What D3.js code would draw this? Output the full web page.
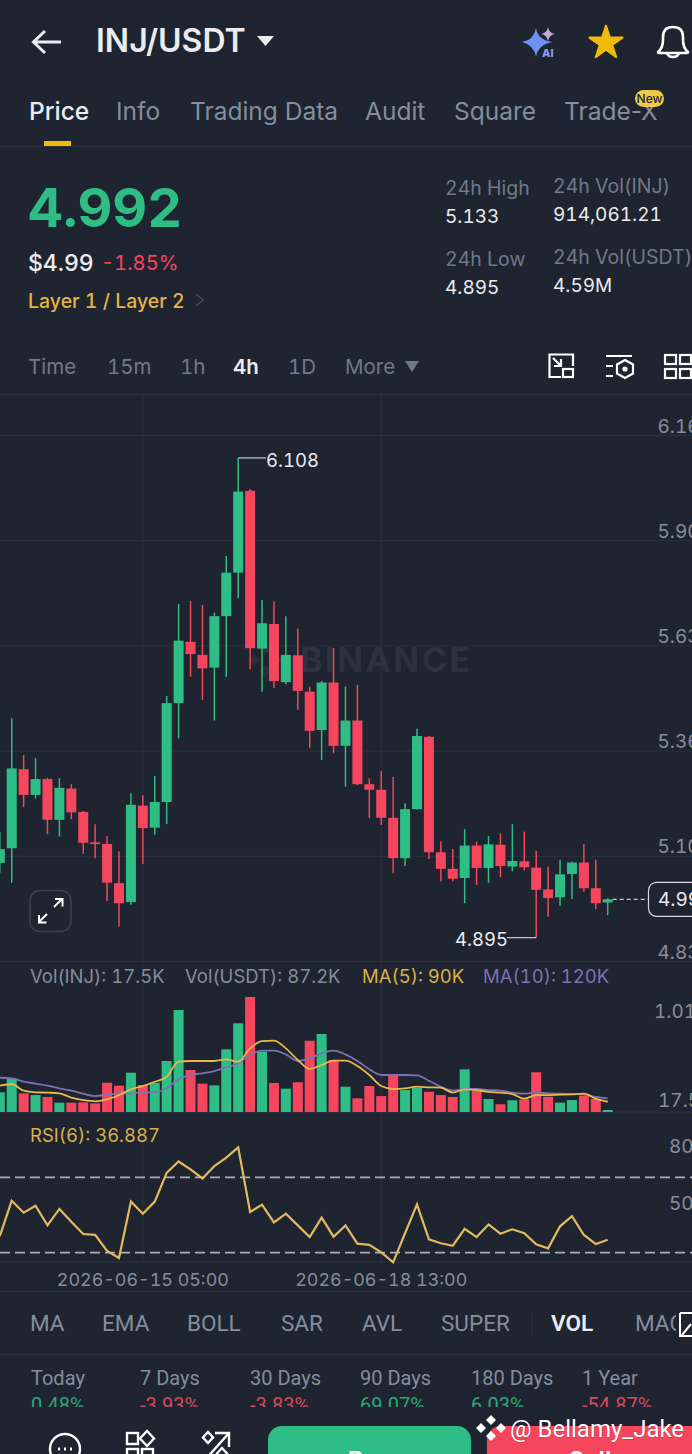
<!DOCTYPE html>
<html>
<head>
<meta charset="utf-8">
<script src="https://cdnjs.cloudflare.com/ajax/libs/d3/7.8.5/d3.min.js"></script>
<style>
  html, body { margin: 0; background: #1e2430; overflow: hidden; }
  svg { display: block; }
  text { font-family: Inter, "Noto Sans", sans-serif; font-variant-numeric: tabular-nums; }
</style>
</head>
<body>
<div id="chart"></div>
<script>
// 4h candles
const times = [
  "2026-06-13 05:00","2026-06-13 09:00","2026-06-13 13:00","2026-06-13 17:00","2026-06-13 21:00",
  "2026-06-14 01:00","2026-06-14 05:00","2026-06-14 09:00","2026-06-14 13:00","2026-06-14 17:00","2026-06-14 21:00",
  "2026-06-15 01:00","2026-06-15 05:00","2026-06-15 09:00","2026-06-15 13:00","2026-06-15 17:00","2026-06-15 21:00",
  "2026-06-16 01:00","2026-06-16 05:00","2026-06-16 09:00","2026-06-16 13:00","2026-06-16 17:00","2026-06-16 21:00",
  "2026-06-17 01:00","2026-06-17 05:00","2026-06-17 09:00","2026-06-17 13:00","2026-06-17 17:00","2026-06-17 21:00",
  "2026-06-18 01:00","2026-06-18 05:00","2026-06-18 09:00","2026-06-18 13:00","2026-06-18 17:00","2026-06-18 21:00",
  "2026-06-19 01:00","2026-06-19 05:00","2026-06-19 09:00","2026-06-19 13:00","2026-06-19 17:00","2026-06-19 21:00",
  "2026-06-20 01:00","2026-06-20 05:00","2026-06-20 09:00","2026-06-20 13:00","2026-06-20 17:00","2026-06-20 21:00",
  "2026-06-21 01:00","2026-06-21 05:00","2026-06-21 09:00","2026-06-21 13:00","2026-06-21 17:00"
]
const open = [5.084,5.121,5.321,5.256,5.296,5.193,5.272,5.213,5.136,5.132,5.033,4.985,5.229,5.173,5.238,5.488,5.643,5.610,5.578,5.708,5.818,6.025,5.626,5.688,5.541,5.609,5.517,5.420,5.540,5.380,5.444,5.283,5.269,5.198,5.096,5.220,5.403,5.111,5.069,5.046,5.128,5.071,5.130,5.075,5.088,5.072,5.017,4.997,5.056,5.085,5.020,4.984]
const high = [5.162,5.450,5.357,5.349,5.299,5.298,5.283,5.215,5.182,5.152,5.113,5.260,5.256,5.304,5.506,5.739,5.746,5.736,5.717,5.860,6.108,6.029,5.749,5.745,5.708,5.677,5.530,5.544,5.627,5.530,5.534,5.298,5.317,5.301,5.235,5.423,5.405,5.138,5.119,5.169,5.138,5.152,5.159,5.182,5.163,5.115,5.075,5.092,5.087,5.132,5.092,4.995]
const low = [5.059,5.034,5.225,5.247,5.157,5.151,5.195,5.107,5.096,4.988,4.923,4.978,5.081,5.155,5.182,5.399,5.555,5.496,5.444,5.554,5.753,5.574,5.517,5.526,5.536,5.471,5.374,5.344,5.361,5.277,5.281,5.198,5.180,5.058,5.076,5.219,5.094,5.037,5.037,4.982,5.028,5.034,5.048,5.063,5.065,4.895,4.948,4.975,4.993,5.011,4.967,4.952]
const close = [5.119,5.323,5.256,5.296,5.193,5.274,5.212,5.135,5.132,5.034,4.982,5.231,5.172,5.238,5.488,5.646,5.612,5.576,5.708,5.818,6.023,5.627,5.690,5.544,5.610,5.519,5.418,5.540,5.380,5.444,5.283,5.269,5.198,5.096,5.220,5.405,5.111,5.069,5.044,5.128,5.071,5.131,5.076,5.089,5.073,5.016,4.995,5.055,5.085,5.020,4.982,4.992]

// volume in thousands of INJ
const volume = [173,296,164,149,132,82,82,85,76,257,231,345,237,257,448,896,369,249,234,550,779,1010,530,255,205,261,626,685,457,222,120,228,140,325,193,213,178,149,132,375,187,114,68,103,111,349,134,82,105,143,114,17.5]
const ma5 = [231,246,187,173,170,164,126,105,94,111,149,199,228,266,310,442,448,448,448,462,442,559,623,626,559,457,378,413,451,451,404,325,228,202,208,222,217,214,170,199,193,176,170,158,117,149,149,152,155,161,117,90]
const ma10 = [301,296,266,249,231,208,187,161,140,152,164,161,173,173,208,287,325,340,360,392,427,501,539,539,506,448,471,515,539,506,448,375,325,325,325,322,275,222,187,202,202,193,187,170,161,170,164,161,158,155,132,120]
const rsi = [38.8,57.6,51.2,54.9,44.5,53.2,46.4,39.9,39.5,30.9,27.2,57.2,50.7,57.1,72.4,78.4,74.2,69.4,76.0,80.4,85.9,51.6,55.5,46.1,50.7,44.5,38.3,48.6,38.5,44.5,34.8,34.2,30.2,24.9,40.3,55.6,37.1,35.0,33.7,42.7,38.3,45.0,40.1,42.4,40.3,34.4,32.3,44.0,49.4,39.4,34.6,36.9]

// tick labels (cut off by the right screen edge in the original)
const priceTicks = [6.166,5.900,5.634,5.368,5.102,4.836]
const priceLabels = ["6.16","5.90","5.63","5.36","5.10","4.83"]
const timeTicks = ["2026-06-15 05:00","2026-06-18 13:00"]
const rsiTicks = [80,50]
const rsiBands = [70,30]

const tabs = ["Price","Info","Trading Data","Audit","Square","Trade-X"]
const intervals = ["Time","15m","1h","4h","1D","More"]
const indicators = ["MA","EMA","BOLL","SAR","AVL","SUPER","VOL","MAC"]
const periods = ["Today","7 Days","30 Days","90 Days","180 Days","1 Year"]
const periodChange = ["0.48%","-3.93%","-3.83%","69.07%","6.03%","-54.87%"]

const w = 692, h = 1454
const bg = '#1e2430', up = '#2ebd85', down = '#f6465d'
const grey = '#848e9c', white = '#eaecef', gridCol = '#2c323e', yellow = '#e3bb5e'

const svg = d3.select('#chart').append('svg').attr('width', w).attr('height', h)
svg.append('rect').attr('width', w).attr('height', h).attr('fill', bg)

const defs = svg.append('defs')
defs.append('clipPath').attr('id', 'pct-clip').append('rect').attr('x', 0).attr('y', 1360).attr('width', w).attr('height', 47)
defs.append('clipPath').attr('id', 'ind-clip').append('rect').attr('x', 0).attr('y', 1295).attr('width', 676).attr('height', 55)

function label(g, s, x, y, size, fill, weight, anchor) {
  return g.append('text').attr('x', x).attr('y', y).attr('font-size', size)
    .attr('fill', fill).attr('font-weight', weight || 400).attr('text-anchor', anchor || 'start').text(s)
}
function hline(g, x1, x2, y, col) {
  g.append('line').attr('x1', x1).attr('x2', x2).attr('y1', y).attr('y2', y).attr('stroke', col || gridCol).attr('stroke-width', 1)
}

// ---- header
const head = svg.append('g')
head.append('path').attr('d', 'M61 42H34M45 31L33.500 42L45 53').attr('fill', 'none').attr('stroke', white).attr('stroke-width', 3)
label(head, 'INJ/USDT', 96, 52, 32, white, 600)
head.append('path').attr('d', 'M257 36H274L265.500 46Z').attr('fill', white)

// AI sparkle, star, bell
head.append('path').attr('d', 'M536 28Q538 40 552 42Q538 45 536 57Q534 45 522 42Q534 40 536 28Z').attr('fill', '#6f8ff5')
head.append('path').attr('d', 'M548 27Q549 33 555 34Q549 35 548 41Q547 35 541 34Q547 33 548 27Z').attr('fill', '#c3a9d8')
label(head, 'AI', 542, 57, 11, '#8a9cf0', 800)
head.append('path').attr('d', d3.symbol(d3.symbolStar, 340)).attr('transform', 'translate(606,43)')
  .attr('fill', '#f0b90b').attr('stroke', '#f0b90b').attr('stroke-width', 2).attr('stroke-linejoin', 'round')
head.append('path')
  .attr('d', 'M658 52Q663 48 663 40V37Q663 27 673 27Q683 27 683 37V40Q683 48 688 52Q688 53 687 53H659Q658 53 658 52ZM667 53Q668 57 673 57Q678 57 679 53')
  .attr('fill', 'none').attr('stroke', '#fff').attr('stroke-width', 2.600)

// ---- tabs
const tabX = [29, 116, 190, 365, 454, 564]
tabs.forEach((s, i) => label(head, s, tabX[i], 120, 24.500, i ? grey : white, i ? 400 : 500).style('font-variant-numeric', 'normal'))
head.append('rect').attr('x', 44).attr('y', 141).attr('width', 27).attr('height', 5).attr('fill', '#f0b90b')
hline(head, 0, w, 146.500)
head.append('rect').attr('x', 635).attr('y', 90).attr('width', 29).attr('height', 17).attr('rx', 8.500).attr('fill', '#f0c94a')
label(head, 'New', 649.500, 103, 12, '#1e2430', 500, 'middle')

// ---- price block
label(head, '4.992', 28, 227, 54, up, 700)
label(head, '$4.99', 28, 271, 23, white, 500)
label(head, '-1.85%', 101, 270, 20.200, down, 400)
label(head, 'Layer 1 / Layer 2', 28, 308, 19.500, '#e5b53f', 500)
head.append('path').attr('d', 'M196 294L203 300L196 306').attr('fill', 'none').attr('stroke', '#474d57').attr('stroke-width', 1.500)
label(head, '24h High', 445, 195, 19.500, '#707a8a')
label(head, '5.133', 445, 223, 19, white)
label(head, '24h Low', 445, 266, 19.500, '#707a8a')
label(head, '4.895', 445, 294, 19, white)
label(head, '24h Vol(INJ)', 553, 193, 19.500, '#707a8a')
label(head, '914,061.21', 553, 221, 19, white)
label(head, '24h Vol(USDT)', 553, 264, 19.500, '#707a8a')
label(head, '4.59M', 553, 292, 19, white)

// ---- interval row
const intervalX = [28, 107, 180, 233, 288, 345]
intervals.forEach((s, i) => label(head, s, intervalX[i], 374, 20.500, s === '4h' ? white : '#707a8a', s === '4h' ? 600 : 400))
head.append('path').attr('d', 'M405 361H419L412 372Z').attr('fill', '#707a8a')
const ic = head.append('g').attr('fill', 'none').attr('stroke', '#fff').attr('stroke-width', 2.200)
ic.append('path').attr('d', 'M561 377H549.500V354.500H573V366M553 358L561 366M561 359V366H554')
ic.append('rect').attr('x', 563).attr('y', 369).attr('width', 10).attr('height', 8)
ic.append('path').attr('d', 'M606 356H632M606 366H613M606 376H613')
ic.append('path').attr('d', 'M625 360L633 364.500V373.500L625 378L617 373.500V364.500Z')
ic.append('circle').attr('cx', 625).attr('cy', 369).attr('r', 1.500).attr('fill', '#fff')
;[[665,355],[680,355],[665,369],[680,369]].forEach(p => ic.append('rect').attr('x', p[0]).attr('y', p[1]).attr('width', 11).attr('height', 9))
hline(head, 0, w, 394.500)

// ---- scales
const x = d3.scaleBand().domain(times).range([-6.16, 613.68]).paddingInner(0.16).paddingOuter(0.08)
const cx = t => x(t) + x.bandwidth() / 2
const y = d3.scaleLinear().domain([4.836, 6.166]).range([961, 435])
const yVol = d3.scaleLinear().domain([0, 1010]).range([1112, 997])
const yRsi = d3.scaleLinear().domain([30, 70]).range([1252.7, 1177.3])

// ---- grid and axes
const priceAxis = d3.axisRight(y).tickValues(priceTicks).tickSize(w).tickFormat((d, i) => priceLabels[i])
const gPrice = svg.append('g').call(priceAxis)
gPrice.select('.domain').remove()
gPrice.selectAll('line').attr('stroke', gridCol)
gPrice.selectAll('text').attr('x', 657.500).attr('y', -3).attr('dy', 0).attr('fill', grey).attr('font-size', 19)

const timeAxis = d3.axisBottom(x).tickValues(timeTicks).tickSize(-(1262 - 395)).tickPadding(11)
const gTime = svg.append('g').attr('transform', 'translate(0,1262)').call(timeAxis)
gTime.select('.domain').attr('stroke', gridCol).attr('d', 'M0,0H692')
gTime.selectAll('line').attr('stroke', gridCol)
gTime.selectAll('text').attr('fill', grey).attr('font-size', 17.900)
hline(svg, 0, w, 1291.500)
hline(svg, 0, w, 1354.500)
hline(svg, 0, w, 1112)

// watermark sits under the candles
const mark = svg.append('g')
mark.append('path').attr('d', 'M265 643L271 649L265 655L259 649ZM254 654L260 660L254 666L248 660ZM276 654L282 660L276 666L270 660ZM265 665L271 671L265 677L259 671Z').attr('fill', '#2b3139')
label(mark, 'BINANCE', 300, 672, 34, '#2d333e', 700).attr('letter-spacing', 2.500)

// ---- candles
const idx = d3.range(times.length)
const col = i => close[i] >= open[i] ? up : down
const candles = svg.append('g')
candles.selectAll('line').data(idx).enter().append('line')
  .attr('x1', i => cx(times[i])).attr('x2', i => cx(times[i]))
  .attr('y1', i => y(high[i])).attr('y2', i => y(low[i]))
  .attr('stroke', col).attr('stroke-width', 1.500)
candles.selectAll('rect').data(idx).enter().append('rect')
  .attr('x', i => x(times[i])).attr('width', x.bandwidth())
  .attr('y', i => y(Math.max(open[i], close[i])))
  .attr('height', i => Math.max(1.500, Math.abs(y(open[i]) - y(close[i]))))
  .attr('fill', col)

// high / low callouts
const iMax = d3.maxIndex(high), iMin = d3.minIndex(low)
const notes = svg.append('g').attr('stroke', '#c8ccd2').attr('stroke-width', 1.200).attr('fill', 'none')
notes.append('path').attr('d', `M${cx(times[iMax])},${y(high[iMax])}H266`)
notes.append('path').attr('d', `M${cx(times[iMin])},${y(low[iMin])}H507`)
label(svg, d3.format('.3f')(high[iMax]), 266, y(high[iMax]) + 9, 18.500, white)
label(svg, d3.format('.3f')(low[iMin]), 455, y(low[iMin]) + 8, 18.500, white)

// last price tag
const lastY = y(close[close.length - 1])
svg.append('line').attr('x1', cx(times[51]) + 5).attr('x2', 648).attr('y1', lastY).attr('y2', lastY)
  .attr('stroke', '#c8ccd2').attr('stroke-dasharray', '4 3').attr('stroke-width', 1.200)
svg.append('rect').attr('x', 648.500).attr('y', lastY - 17).attr('width', 70).attr('height', 34).attr('rx', 8)
  .attr('fill', bg).attr('stroke', '#d5d8dc').attr('stroke-width', 1.200)
label(svg, '4.99', 658, lastY + 7, 19, white)

// expand button
svg.append('rect').attr('x', 30).attr('y', 890.500).attr('width', 41).attr('height', 41).attr('rx', 10)
  .attr('fill', 'none').attr('stroke', '#3a414d').attr('stroke-width', 1.500)
svg.append('path').attr('d', 'M54 907L62 899M55 899H62.500V906.500M47 914L39 922M39 915V922.500H46.500')
  .attr('fill', 'none').attr('stroke', '#fff').attr('stroke-width', 2)

// ---- volume pane
label(svg, 'Vol(INJ): 17.5K', 30, 983, 18.500, grey)
label(svg, 'Vol(USDT): 87.2K', 185, 983, 18.500, grey)
label(svg, 'MA(5): 90K', 362, 983, 18.500, '#d9b04a')
label(svg, 'MA(10): 120K', 483, 983, 18.500, '#7d70b5')
label(svg, '1.01', 654, 1018, 19, grey)
label(svg, '17.5', 658, 1107, 19, grey)

svg.append('g').selectAll('rect').data(idx).enter().append('rect')
  .attr('x', i => x(times[i])).attr('width', x.bandwidth())
  .attr('y', i => yVol(volume[i])).attr('height', i => yVol(0) - yVol(volume[i]))
  .attr('fill', col)

const maLine = d3.line().x((d, i) => cx(times[i])).y(d => yVol(d)).curve(d3.curveMonotoneX)
svg.append('path').attr('d', maLine(ma10)).attr('fill', 'none').attr('stroke', '#7d70b5').attr('stroke-width', 1.800)
svg.append('path').attr('d', maLine(ma5)).attr('fill', 'none').attr('stroke', '#eab84a').attr('stroke-width', 1.800)

// ---- RSI pane
label(svg, 'RSI(6): 36.887', 30, 1142, 18.500, '#d9b04a')
rsiTicks.forEach(v => label(svg, v, 669, yRsi(v) - 5, 19, grey))
svg.append('g').selectAll('line').data(rsiBands).enter().append('line')
  .attr('x1', 0).attr('x2', w).attr('y1', d => yRsi(d)).attr('y2', d => yRsi(d))
  .attr('stroke', '#a9adb5').attr('stroke-width', 1.800).attr('stroke-dasharray', '10 5')
const rsiLine = d3.line().x((d, i) => cx(times[i])).y(d => yRsi(d))
svg.append('path').attr('d', rsiLine(rsi)).attr('fill', 'none').attr('stroke', yellow).attr('stroke-width', 2.200)

// ---- indicator tabs
const indX = [30, 102, 187, 281, 362, 441, 551, 635]
const gInd = svg.append('g').attr('clip-path', 'url(#ind-clip)')
indicators.forEach((s, i) => {
  label(gInd, s, indX[i], 1331, 22.500, s === 'VOL' ? white : grey, s === 'VOL' ? 600 : 400)
    .style('font-family', 'Roboto')
})
svg.append('line').attr('x1', 532).attr('x2', 532).attr('y1', 1312).attr('y2', 1336).attr('stroke', gridCol)
svg.append('path').attr('d', 'M680 1313H692M680 1313V1336H692M682 1335L691 1324').attr('fill', 'none').attr('stroke', '#fff').attr('stroke-width', 2)

// ---- period performance
const perX = [31, 140, 250, 360, 471, 582]
const gPct = svg.append('g').attr('clip-path', 'url(#pct-clip)')
periods.forEach((s, i) => {
  label(svg, s, perX[i], 1385, 20, grey).style('font-family', 'Roboto')
  label(gPct, periodChange[i], perX[i], 1412, 20, periodChange[i][0] === '-' ? '#d84a5c' : '#2ba87a').style('font-family', 'Roboto')
})

// ---- bottom bar
svg.append('rect').attr('x', 268).attr('y', 1426).attr('width', 203).attr('height', 60).attr('rx', 14).attr('fill', up)
svg.append('rect').attr('x', 487).attr('y', 1426).attr('width', 220).attr('height', 60).attr('rx', 14).attr('fill', down)
label(svg, 'Buy', 370, 1469, 24, '#fff', 600, 'middle')
label(svg, 'Sell', 590, 1469, 24, '#fff', 600, 'middle')

const nav = svg.append('g').attr('fill', 'none').attr('stroke', '#fff').attr('stroke-width', 2.400)
nav.append('circle').attr('cx', 65).attr('cy', 1449).attr('r', 15)
nav.append('path').attr('d', 'M58 1449h2M64 1449h2M70 1449h2').attr('stroke-width', 3)
nav.append('rect').attr('x', 127).attr('y', 1433).attr('width', 11).attr('height', 11)
nav.append('path').attr('d', 'M147 1431L154 1438.500L147 1446L140 1438.500Z')
nav.append('rect').attr('x', 127).attr('y', 1449).attr('width', 11).attr('height', 11)
nav.append('rect').attr('x', 142).attr('y', 1449).attr('width', 11).attr('height', 11)
nav.append('path').attr('d', 'M215 1433H229V1447M229 1433L205 1460')
nav.append('path').attr('d', 'M208 1432L213 1437.500L208 1443L203 1437.500Z')
nav.append('path').attr('d', 'M222 1448L227 1453.500L222 1459L217 1453.500Z')

// photo credit on top
const credit = svg.append('g')
credit.append('path').attr('d', 'M491 1415L496 1420L491 1425L486 1420ZM481 1423L486 1428L481 1433L476 1428ZM501 1423L506 1428L501 1433L496 1428ZM491 1431L496 1436L491 1441L486 1436Z').attr('fill', '#fff')
label(credit, '@ Bellamy_Jake', 510, 1437, 24, '#fff').style('font-family', 'Roboto')
  .style('paint-order', 'stroke').attr('stroke', 'rgba(0,0,0,.25)').attr('stroke-width', 1)
</script>
</body>
</html>
